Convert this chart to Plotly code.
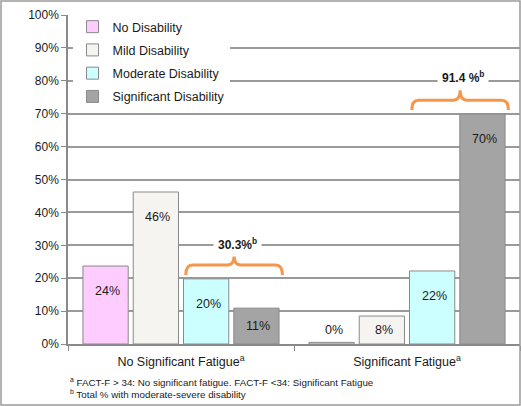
import plotly.graph_objects as go

categories = ["No Significant Fatigue<sup>a</sup>", "Significant Fatigue<sup>a</sup>"]
series = ["No Disability", "Mild Disability", "Moderate Disability", "Significant Disability"]
values = {
    "No Disability": [23.7, 0.5],
    "Mild Disability": [46.2, 8.5],
    "Moderate Disability": [19.8, 22.2],
    "Significant Disability": [10.9, 69.9],
}
labels = {
    "No Disability": ["24%", "0%"],
    "Mild Disability": ["46%", "8%"],
    "Moderate Disability": ["20%", "22%"],
    "Significant Disability": ["11%", "70%"],
}
totals = ["30.3%<sup>b</sup>", "91.4 %<sup>b</sup>"]
footnotes = [
    "<sup>a</sup> FACT-F > 34: No significant fatigue. FACT-F <34: Significant Fatigue",
    "<sup>b</sup> Total % with moderate-severe disability",
]

colors = ["#ffccff", "#f6f4f0", "#ccffff", "#a4a4a4"]
FONT = "Liberation Sans, Arial, sans-serif"
ORANGE = "#f7964a"
BARGAP = 0.11
SLOT = (1 - BARGAP) / len(series)

fig = go.Figure()
for name, color in zip(series, colors):
    fig.add_trace(go.Bar(
        x=categories,
        y=values[name],
        name=name,
        legendgroup=name,
        marker=dict(color=color, line=dict(color="#8a8a8a", width=1)),
    ))

annotations = []
shapes = []
for gi in range(len(categories)):
    for j, name in enumerate(series):
        v = values[name][gi]
        xpos = gi + (j - (len(series) - 1) / 2) * SLOT
        h = v * 3.29
        if h < 12:
            annotations.append(dict(x=xpos, y=v, text=labels[name][gi], showarrow=False,
                                    yanchor="bottom", yshift=3, xshift=2))
        else:
            off = min(25, h / 2)
            annotations.append(dict(x=xpos, y=v, text=labels[name][gi], showarrow=False,
                                    yanchor="middle", yshift=-off, xshift=2))

    # brace over moderate + significant bars
    left = gi + (2 - 1.5) * SLOT - SLOT * 0.45 + 0.01
    right = gi + (3 - 1.5) * SLOT + SLOT * 0.45 + 0.015
    mid = (left + right) / 2
    base = max(values["Moderate Disability"][gi], values["Significant Disability"][gi]) + 1.2
    top = base + 3
    peak = base + 6
    r = 0.03
    path = (f"M {left},{base} Q {left},{top} {left + r},{top} "
            f"L {mid - r},{top} Q {mid},{top} {mid},{peak} "
            f"Q {mid},{top} {mid + r},{top} L {right - r},{top} "
            f"Q {right},{top} {right},{base}")
    shapes.append(dict(type="path", path=path, xref="x", yref="y",
                       line=dict(color=ORANGE, width=3)))
    ty = [30, 80][gi]
    annotations.append(dict(x=mid, y=ty, text=f"<b>{totals[gi]}</b>", showarrow=False,
                            bgcolor="white", borderpad=4, font=dict(size=12),
                            yanchor="middle", yshift=[1, 4][gi], xshift=3))

for k, note in enumerate(footnotes):
    annotations.append(dict(xref="paper", yref="paper", x=0, y=0, xanchor="left",
                            yanchor="middle", yshift=-38 - 12 * k, text=note,
                            showarrow=False, font=dict(size=9.8)))

# outer frame
shapes.append(dict(type="rect", xref="paper", yref="paper",
                   x0=-67 / 452, x1=1.0, y0=-61 / 329, y1=1 + 14 / 329,
                   line=dict(color="#9a9a9a", width=1.5), layer="above"))

fig.update_layout(
    width=521,
    height=406,
    margin=dict(l=68, r=1, t=15, b=62),
    barmode="group",
    bargap=BARGAP,
    bargroupgap=0.1,
    plot_bgcolor="white",
    paper_bgcolor="white",
    font=dict(family=FONT, size=12.5, color="#1a1a1a"),
    showlegend=True,
    legend=dict(x=0.01, y=1.009, xanchor="left", yanchor="top", bgcolor="white",
                tracegroupgap=4, traceorder="grouped", font=dict(size=12.5),
                itemwidth=30, entrywidth=125, entrywidthmode="pixels"),
    annotations=annotations,
    shapes=shapes,
)
fig.update_xaxes(
    showline=True, linecolor="#8a8a8a", linewidth=1.5,
    ticks="outside", tickson="boundaries", ticklen=5, tickcolor="#8a8a8a",
    showgrid=False, ticklabelstandoff=5,
)
fig.update_yaxes(
    range=[0, 100], dtick=10, ticksuffix="%",
    showline=True, linecolor="#8a8a8a", linewidth=1.5,
    ticks="outside", ticklen=5, tickcolor="#8a8a8a",
    showgrid=True, gridcolor="#9a9a9a", gridwidth=1.5, zeroline=False,
    tickfont=dict(size=12),
)

fig.write_html("out.html", config={"displayModeBar": False},
               post_script="document.body.style.margin='0';")
